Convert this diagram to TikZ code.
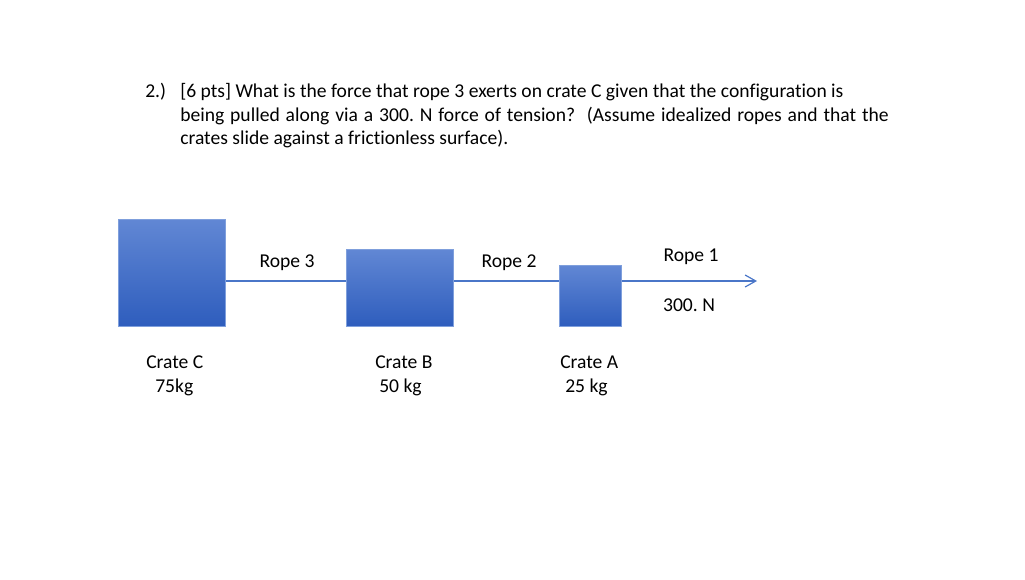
\documentclass[tikz,border=0pt]{standalone}
\usepackage{fontspec}
\setmainfont{Carlito}[Ligatures=NoCommon]
\usepackage{tikz}
\usetikzlibrary{arrows.meta,positioning}
\frenchspacing
\definecolor{cratetop}{HTML}{6187D4}
\definecolor{cratebot}{HTML}{2E5DBD}
\definecolor{crateedge}{HTML}{7F9FDC}
\definecolor{ropeblue}{HTML}{4A76C8}
\tikzset{
  crate/.style={draw=crateedge, line width=0.8pt, top color=cratetop, bottom color=cratebot,
    inner sep=0pt, anchor=south west},
  rope/.style={draw=ropeblue, line width=0.9pt},
  lbl/.style={anchor=base west, inner sep=0pt, font=\fontsize{14.7}{17.8}\selectfont}
}

\begin{document}
\begin{tikzpicture}[x=0.75pt, y=-0.75pt]
        \useasboundingbox (0,0) rectangle (1025,579);
        % question
        \node[lbl] (num) at (145,97) {2.)};
        \node[lbl, anchor=north west, align=left] (q) at (180,83) {[6 pts] What is the force that rope 3 exerts on crate C given that the configuration is\\
          {\spaceskip=0.3em plus 0.1em being pulled along via a 300. N force of tension?\ \ (Assume idealized ropes and that the}\\
          crates slide against a frictionless surface).};

        % crates
        \node[crate, minimum width={107*0.75pt}, minimum height={107*0.75pt}] (C) at (118,327) {};
        \node[crate, minimum width={107*0.75pt}, minimum height={77*0.75pt}] (B) at (346,327) {};
        \node[crate, minimum width={62*0.75pt}, minimum height={61*0.75pt}] (A) at (559,327) {};

        % ropes
        \coordinate (ry) at (0,281);
        \coordinate (tip) at (757,281);
        \draw[rope] (C.east |- ry) -- (B.west |- ry);
        \draw[rope] (B.east |- ry) -- (A.west |- ry);
        \draw[rope, -{Straight Barb[length=8pt, width=9pt]}] (A.east |- ry) -- (tip);

        \node[lbl, anchor=base] (r3) at (287,267) {Rope 3};
        \node[lbl, anchor=base] (r2) at (509,267) {Rope 2};
        \node[lbl, anchor=base] (r1) at (691,261) {Rope 1};
        \node[lbl, anchor=base] (f1) at (689,311) {300. N};

        % crate labels
        \node[lbl] (cc) at (146,368) {Crate C};
        \node[lbl] (mc) at (155,392) {75kg};
        \node[lbl] (cb) at (375,368) {Crate B};
        \node[lbl] (mb) at (379,392) {50 kg};
        \node[lbl] (ca) at (560,368) {Crate A};
        \node[lbl] (ma) at (565,392) {25 kg};
\end{tikzpicture}
\end{document}
